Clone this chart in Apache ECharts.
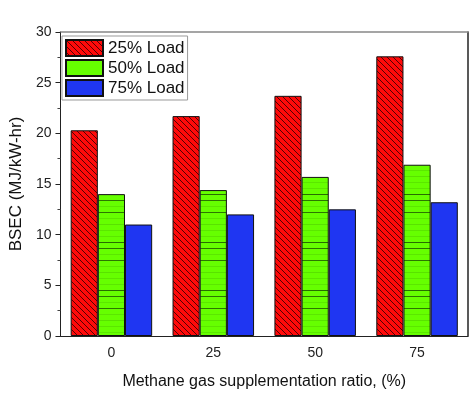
<!DOCTYPE html>
<html>
<head>
<meta charset="utf-8">
<script src="https://cdn.jsdelivr.net/npm/echarts@6/dist/echarts.min.js"></script>
<style>
  html, body { margin: 0; padding: 0; background: #fff; }
  #main { width: 474px; height: 399px; }
</style>
</head>
<body>
<div id="main"></div>
<script>
// methane supplementation ratio (%)
var ratios = ['0', '25', '50', '75'];
var loadNames = ['25% Load', '50% Load', '75% Load'];
// BSEC (MJ/kW-hr)
var load25 = [20.3, 21.7, 23.7, 27.6];
var load50 = [14.0, 14.4, 15.7, 16.9];
var load75 = [11.0, 12.0, 12.5, 13.2];

// red fill with "\" hatching
var makeHatch = function () {
    var c = document.createElement('canvas');
    c.width = 6; c.height = 6;
    var ctx = c.getContext('2d');
    ctx.fillStyle = '#ff0a0a';
    ctx.fillRect(0, 0, 6, 6);
    ctx.strokeStyle = 'rgba(40,0,0,0.8)';
    ctx.lineWidth = 1;
    ctx.beginPath();
    ctx.moveTo(-1, -1); ctx.lineTo(7, 7);
    ctx.moveTo(-1, 5); ctx.lineTo(1, 7);
    ctx.moveTo(5, -1); ctx.lineTo(7, 1);
    ctx.stroke();
    return c;
};
// green fill with uneven horizontal lines
var makeStripes = function () {
    var c = document.createElement('canvas');
    c.width = 4; c.height = 48;
    var ctx = c.getContext('2d');
    ctx.fillStyle = '#66ff00';
    ctx.fillRect(0, 0, 4, 48);
    var rows = [[2, 0.75], [8, 0.7], [14, 0.12], [20, 0.7], [26, 0.12], [32, 0.15], [38, 0.12], [44, 0.12]];
    for (var i = 0; i < rows.length; i++) {
        ctx.fillStyle = 'rgba(20,60,0,' + rows[i][1] + ')';
        ctx.fillRect(0, rows[i][0], 4, 1);
    }
    return c;
};

var hatch = makeHatch();
var chart = echarts.init(document.getElementById('main'), null, {renderer: 'canvas'});
var font = 'Liberation Sans, Arial, sans-serif';

chart.setOption({
    animation: false,
    backgroundColor: '#fff',
    grid: {left: 55, top: 32, right: 6, bottom: 63},
    legend: {
        orient: 'vertical',
        left: 62, top: 36,
        padding: [3, 3, 3, 3],
        itemGap: 2,
        itemWidth: 37, itemHeight: 16,
        icon: 'rect',
        borderColor: '#999', borderWidth: 1,
        textStyle: {fontFamily: font, fontSize: 17, color: '#111'},
        data: [
            {name: loadNames[0]},
            {name: loadNames[1], itemStyle: {color: '#66ff00'}},
            {name: loadNames[2]}
        ]
    },
    xAxis: [{
        type: 'category',
        data: ratios,
        name: 'Methane gas supplementation ratio, (%)',
        nameLocation: 'middle',
        nameGap: 38,
        nameTextStyle: {fontFamily: font, fontSize: 16, color: '#111'},
        axisLine: {lineStyle: {color: '#222', width: 1}},
        axisTick: {alignWithLabel: true, length: 5, lineStyle: {color: '#222'}},
        axisLabel: {fontFamily: font, fontSize: 14, color: '#222', margin: 10}
    }, {
        type: 'category',
        data: ratios,
        position: 'bottom',
        axisLine: {show: false},
        axisTick: {length: 4, lineStyle: {color: '#444'}},
        axisLabel: {show: false}
    }, {
        type: 'category',
        data: ratios,
        position: 'top',
        axisLine: {lineStyle: {color: '#888', width: 1.5}},
        axisTick: {show: false},
        axisLabel: {show: false}
    }],
    yAxis: [{
        type: 'value',
        min: 0, max: 30, interval: 5,
        name: 'BSEC (MJ/kW-hr)',
        nameLocation: 'middle',
        nameGap: 34,
        nameTextStyle: {fontFamily: font, fontSize: 17, color: '#111'},
        axisLine: {show: true, lineStyle: {color: '#222', width: 1}},
        axisTick: {show: true, length: 5, lineStyle: {color: '#222'}},
        minorTick: {show: true, splitNumber: 2, length: 3, lineStyle: {color: '#444'}},
        splitLine: {show: false},
        axisLabel: {fontFamily: font, fontSize: 14, color: '#222', margin: 9}
    }, {
        type: 'value',
        min: 0, max: 30, interval: 5,
        position: 'right',
        axisLine: {show: true, lineStyle: {color: '#222', width: 1.5}},
        axisTick: {show: false},
        splitLine: {show: false},
        axisLabel: {show: false}
    }],
    series: [{
        name: loadNames[0], type: 'bar', data: load25,
        barGap: '0%', barCategoryGap: '20%',
        itemStyle: {color: {image: hatch, repeat: 'repeat'}, borderColor: '#111', borderWidth: 1}
    }, {
        name: loadNames[1], type: 'bar', data: load50,
        barGap: '0%', barCategoryGap: '20%',
        itemStyle: {color: {image: makeStripes(), repeat: 'repeat'}, borderColor: '#111', borderWidth: 1}
    }, {
        name: loadNames[2], type: 'bar', data: load75,
        barGap: '0%', barCategoryGap: '20%',
        itemStyle: {color: '#1f36f2', borderColor: '#111', borderWidth: 1}
    }]
});
</script>
</body>
</html>
